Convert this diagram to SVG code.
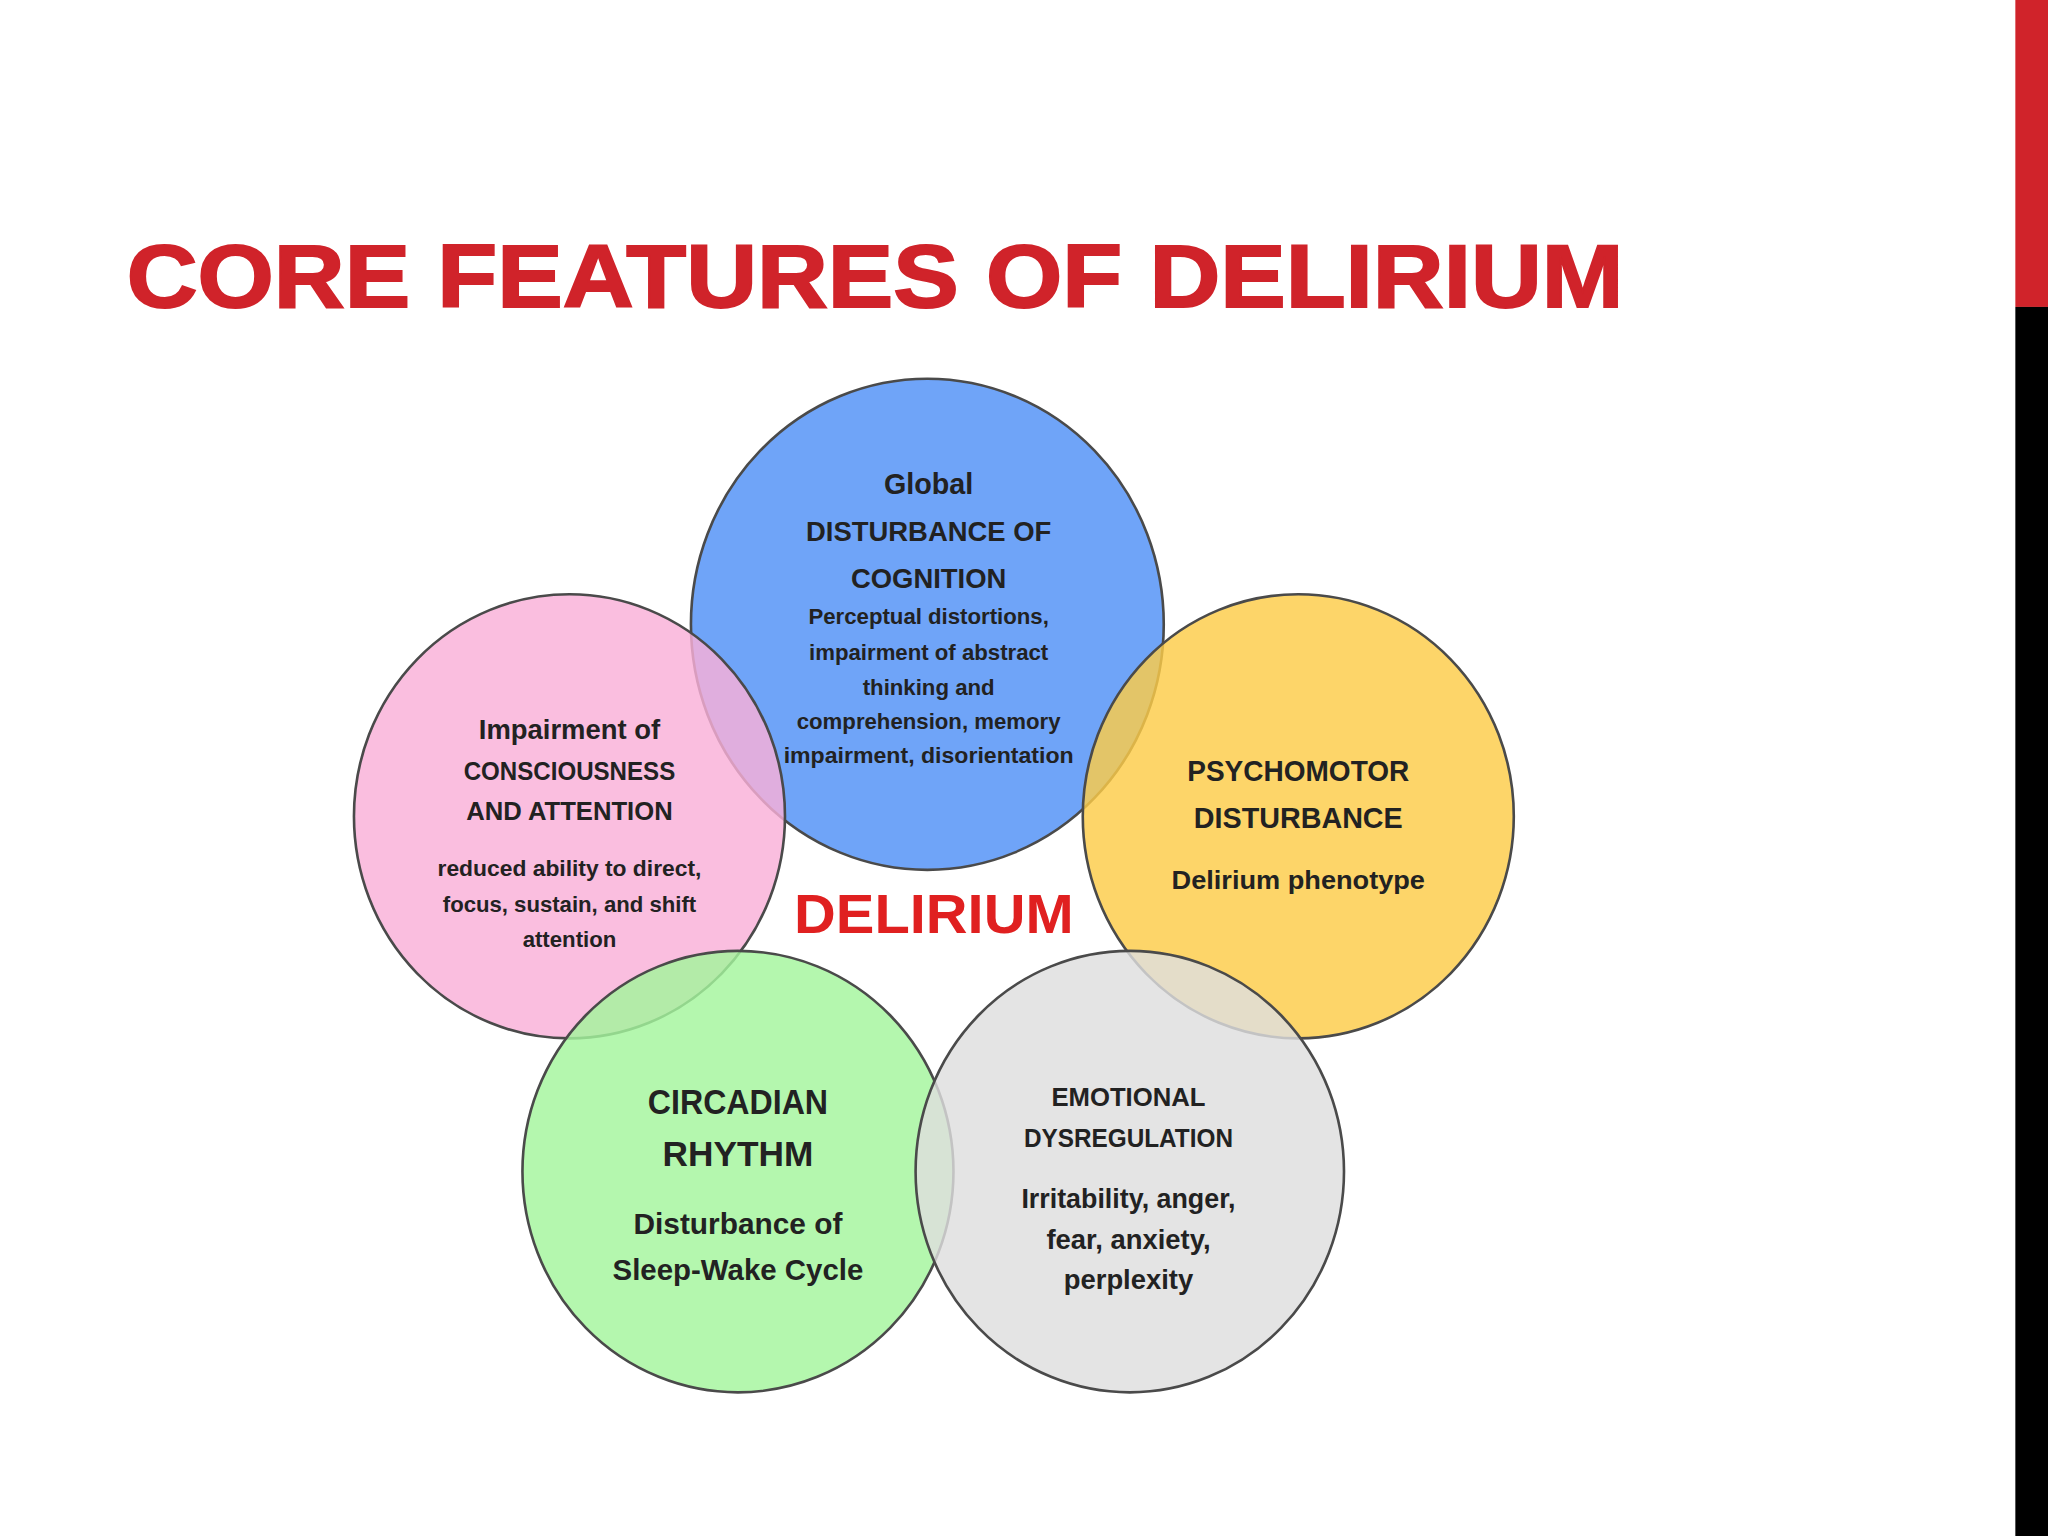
<svg xmlns="http://www.w3.org/2000/svg" width="2048" height="1536" viewBox="0 0 2048 1536">
<style>
.c{stroke:#4a4a4a;stroke-width:2;fill-opacity:0.82}
text{font-family:"Liberation Sans",Arial,sans-serif;font-weight:bold;fill:#222;text-anchor:middle}
.s{font-size:17px}
</style>
<rect width="2048" height="1536" fill="#fff"/>
<g transform="scale(1.30612)">
<rect x="1543" y="0" width="25" height="235" fill="#d0232a"/>
<rect x="1543" y="235" width="25" height="941" fill="#000"/>
<text x="97" y="235" style="font-size:68px;fill:#d0232a;text-anchor:start;stroke:#d0232a;stroke-width:1.5" textLength="1146" lengthAdjust="spacingAndGlyphs">CORE FEATURES OF DELIRIUM</text>
<g id="blue"><ellipse class="c" cx="710" cy="478" rx="181" ry="188" fill="#4f90f6"/>
<text x="711" y="378" style="font-size:22px">Global</text>
<text x="711" y="414" style="font-size:21px">DISTURBANCE OF</text>
<text x="711" y="450" style="font-size:21px">COGNITION</text>
<text class="s" x="711" y="478">Perceptual distortions,</text>
<text class="s" x="711" y="505">impairment of abstract</text>
<text class="s" x="711" y="532">thinking and</text>
<text class="s" x="711" y="558">comprehension, memory</text>
<text class="s" x="711" y="584" textLength="222" lengthAdjust="spacingAndGlyphs">impairment, disorientation</text></g>
<g id="pink"><ellipse class="c" cx="436" cy="625" rx="165" ry="170" fill="#f9b0d8"/>
<text x="436" y="566" style="font-size:21px">Impairment of</text>
<text x="436" y="597" style="font-size:20px" textLength="162" lengthAdjust="spacingAndGlyphs">CONSCIOUSNESS</text>
<text x="436" y="628" style="font-size:20px" textLength="158" lengthAdjust="spacingAndGlyphs">AND ATTENTION</text>
<text class="s" x="436" y="671" textLength="202" lengthAdjust="spacingAndGlyphs">reduced ability to direct,</text>
<text class="s" x="436" y="698" textLength="194" lengthAdjust="spacingAndGlyphs">focus, sustain, and shift</text>
<text class="s" x="436" y="725">attention</text></g>
<g id="yellow"><ellipse class="c" cx="994" cy="625" rx="165" ry="170" fill="#fccc48"/>
<text x="994" y="598" style="font-size:23px" textLength="170" lengthAdjust="spacingAndGlyphs">PSYCHOMOTOR</text>
<text x="994" y="634" style="font-size:23px" textLength="160" lengthAdjust="spacingAndGlyphs">DISTURBANCE</text>
<text x="994" y="681" style="font-size:20px" textLength="194" lengthAdjust="spacingAndGlyphs">Delirium phenotype</text></g>
<g id="green"><ellipse class="c" cx="565" cy="897" rx="165" ry="169" fill="#a4f59c"/>
<text x="565" y="853" style="font-size:27px" textLength="138" lengthAdjust="spacingAndGlyphs">CIRCADIAN</text>
<text x="565" y="893" style="font-size:27px">RHYTHM</text>
<text x="565" y="945" style="font-size:23px" textLength="160" lengthAdjust="spacingAndGlyphs">Disturbance of</text>
<text x="565" y="980" style="font-size:23px" textLength="192" lengthAdjust="spacingAndGlyphs">Sleep-Wake Cycle</text></g>
<g id="gray"><ellipse class="c" cx="865" cy="897" rx="164" ry="169" fill="#dedede"/>
<text x="864" y="847" style="font-size:20px" textLength="118" lengthAdjust="spacingAndGlyphs">EMOTIONAL</text>
<text x="864" y="878" style="font-size:20px" textLength="160" lengthAdjust="spacingAndGlyphs">DYSREGULATION</text>
<text x="864" y="925" style="font-size:21px" textLength="164" lengthAdjust="spacingAndGlyphs">Irritability, anger,</text>
<text x="864" y="956" style="font-size:21px">fear, anxiety,</text>
<text x="864" y="987" style="font-size:21px">perplexity</text></g>
<g id="center"><text x="715" y="714" style="font-size:42px;fill:#e02020" textLength="214" lengthAdjust="spacingAndGlyphs">DELIRIUM</text></g>
<g id="connectors"/>
</g>
</svg>
